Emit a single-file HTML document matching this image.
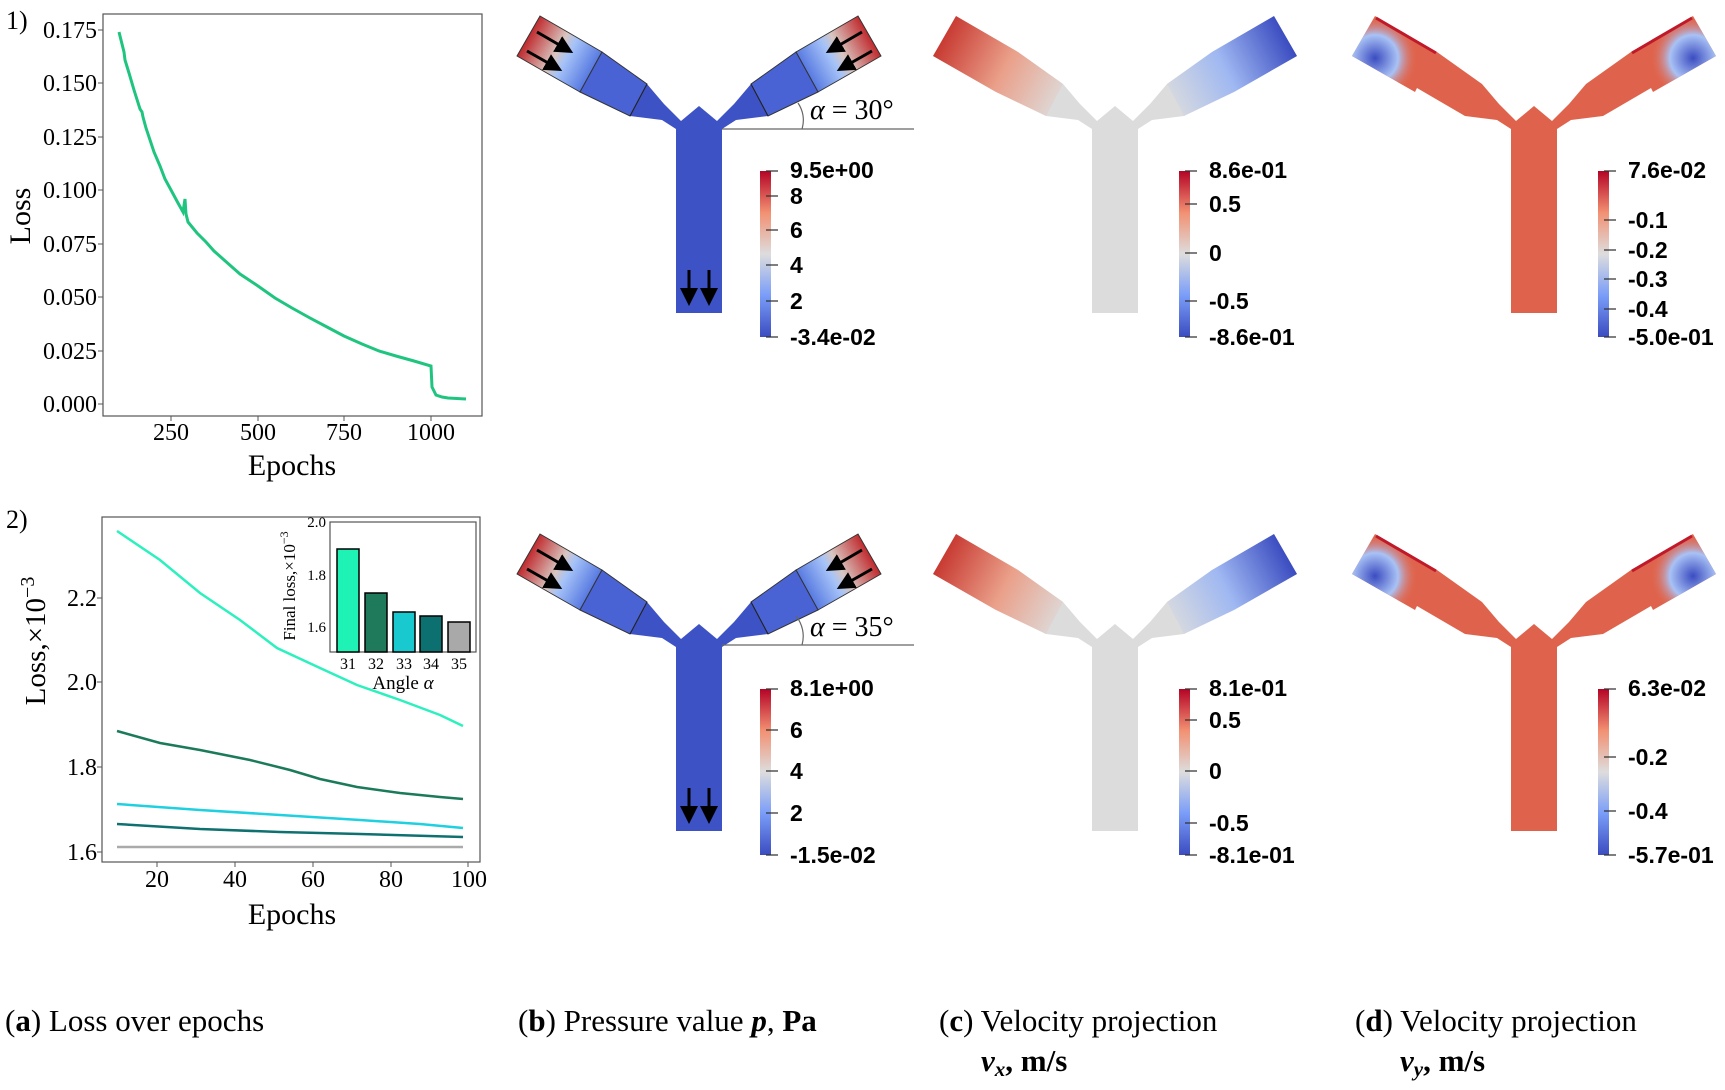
<!DOCTYPE html>
<html><head><meta charset="utf-8"><style>
html,body{margin:0;padding:0;background:#fff;}
svg{display:block;}
.s{font-family:"Liberation Serif",serif;}
.c{font-family:"Liberation Sans",sans-serif;font-weight:bold;font-size:23px;}
</style></head><body>
<svg width="1725" height="1090" viewBox="0 0 1725 1090" xmlns="http://www.w3.org/2000/svg">
<defs>
<path id="Y" d="M676,313 L676,129 L662,120 L630,116 L582,88 L580,92 L517,56 L540,16 L602,52 L647,84 L664,104 L681,121 L699,106 L717,121 L734,104 L751,84 L796,52 L858,16 L881,56 L818,92 L816,88 L768,116 L736,120 L722,129 L722,313 Z"/>
<linearGradient id="cb" x1="0" y1="1" x2="0" y2="0">
<stop offset="0" stop-color="#3b4cc0"/><stop offset="0.25" stop-color="#7a9df8"/><stop offset="0.5" stop-color="#dddddd"/><stop offset="0.75" stop-color="#f29072"/><stop offset="1" stop-color="#b40426"/></linearGradient>
<linearGradient id="lb" gradientUnits="userSpaceOnUse" x1="528" y1="36" x2="592" y2="72"><stop offset="0" stop-color="#c0282c"/><stop offset="0.45" stop-color="#d9c6c0"/><stop offset="0.6" stop-color="#a6c3f8"/><stop offset="1" stop-color="#5577e0"/></linearGradient>
<linearGradient id="rb" gradientUnits="userSpaceOnUse" x1="870" y1="36" x2="806" y2="72"><stop offset="0" stop-color="#c0282c"/><stop offset="0.45" stop-color="#d9c6c0"/><stop offset="0.6" stop-color="#a6c3f8"/><stop offset="1" stop-color="#5577e0"/></linearGradient>
<linearGradient id="vxl" gradientUnits="userSpaceOnUse" x1="528" y1="36" x2="650" y2="100"><stop offset="0" stop-color="#c83a32"/><stop offset="0.5" stop-color="#eaa08a"/><stop offset="1" stop-color="#dddddd"/></linearGradient>
<linearGradient id="vxr" gradientUnits="userSpaceOnUse" x1="870" y1="36" x2="748" y2="100"><stop offset="0" stop-color="#3b4cc0"/><stop offset="0.5" stop-color="#9fb8f2"/><stop offset="1" stop-color="#dddddd"/></linearGradient>
<radialGradient id="vyl" gradientUnits="userSpaceOnUse" cx="540" cy="58" r="42"><stop offset="0" stop-color="#3b4cc0"/><stop offset="0.55" stop-color="#a9c2f5"/><stop offset="1" stop-color="#e06a52" stop-opacity="0"/></radialGradient>
<radialGradient id="vyr" gradientUnits="userSpaceOnUse" cx="858" cy="58" r="42"><stop offset="0" stop-color="#3b4cc0"/><stop offset="0.55" stop-color="#a9c2f5"/><stop offset="1" stop-color="#e06a52" stop-opacity="0"/></radialGradient>
<marker id="ah" markerWidth="6" markerHeight="6" refX="4" refY="3" orient="auto"><path d="M0,0 L6,3 L0,6 Z" fill="#000"/></marker>
<g id="pb">
<use href="#Y" fill="#3d52c4"/>
<polygon points="517,56 540,16 602,52 580,92" fill="url(#lb)" stroke="#333" stroke-width="1"/>
<polygon points="881,56 858,16 796,52 818,92" fill="url(#rb)" stroke="#333" stroke-width="1"/>
<polygon points="602,52 647,84 630,116 580,92" fill="#4a63d4" stroke="#333" stroke-width="1"/>
<polygon points="796,52 751,84 768,116 818,92" fill="#4a63d4" stroke="#333" stroke-width="1"/>
<path d="M647,84 L630,116 M751,84 L768,116" stroke="#222" stroke-width="1"/>
<line x1="537" y1="32" x2="568" y2="50" stroke="#000" stroke-width="3" marker-end="url(#ah)"/>
<line x1="527" y1="51" x2="557" y2="68" stroke="#000" stroke-width="3" marker-end="url(#ah)"/>
<line x1="862" y1="32" x2="831" y2="50" stroke="#000" stroke-width="3" marker-end="url(#ah)"/>
<line x1="872" y1="51" x2="842" y2="68" stroke="#000" stroke-width="3" marker-end="url(#ah)"/>
<line x1="689" y1="270" x2="689" y2="300" stroke="#000" stroke-width="3" marker-end="url(#ah)"/>
<line x1="709" y1="270" x2="709" y2="300" stroke="#000" stroke-width="3" marker-end="url(#ah)"/>
</g>
<g id="pc">
<use href="#Y" fill="#dcdcdc"/>
<polygon points="517,56 540,16 602,52 647,84 630,116 580,92" fill="url(#vxl)"/>
<polygon points="881,56 858,16 796,52 751,84 768,116 818,92" fill="url(#vxr)"/>
</g>
<g id="pd">
<use href="#Y" fill="#df634c"/>
<polygon points="517,56 540,16 602,52 580,92" fill="url(#vyl)"/>
<polygon points="881,56 858,16 796,52 818,92" fill="url(#vyr)"/>
<line x1="541" y1="18" x2="601" y2="53" stroke="#c01a2a" stroke-width="3"/>
<line x1="857" y1="18" x2="797" y2="53" stroke="#c01a2a" stroke-width="3"/>
</g>
</defs>

<!-- Plot 1 -->
<text class="s" x="6" y="29" font-size="26">1)</text>
<rect x="103" y="14" width="379" height="402" fill="none" stroke="#555" stroke-width="1.2"/>
<g class="s" font-size="24" text-anchor="end">
<text x="97" y="38">0.175</text><text x="97" y="91">0.150</text><text x="97" y="145">0.125</text><text x="97" y="198">0.100</text><text x="97" y="252">0.075</text><text x="97" y="305">0.050</text><text x="97" y="359">0.025</text><text x="97" y="412">0.000</text>
</g>
<g stroke="#555"><line x1="98" y1="30" x2="103" y2="30"/><line x1="98" y1="83" x2="103" y2="83"/><line x1="98" y1="137" x2="103" y2="137"/><line x1="98" y1="190" x2="103" y2="190"/><line x1="98" y1="244" x2="103" y2="244"/><line x1="98" y1="297" x2="103" y2="297"/><line x1="98" y1="351" x2="103" y2="351"/><line x1="98" y1="404" x2="103" y2="404"/>
<line x1="171" y1="416" x2="171" y2="421"/><line x1="258" y1="416" x2="258" y2="421"/><line x1="344" y1="416" x2="344" y2="421"/><line x1="431" y1="416" x2="431" y2="421"/></g>
<g class="s" font-size="24" text-anchor="middle"><text x="171" y="440">250</text><text x="258" y="440">500</text><text x="344" y="440">750</text><text x="431" y="440">1000</text></g>
<text class="s" x="292" y="475" font-size="30" text-anchor="middle">Epochs</text>
<text class="s" font-size="30" text-anchor="middle" transform="translate(30,216) rotate(-90)">Loss</text>
<polyline fill="none" stroke="#1fc47f" stroke-width="3" points="119,32 124,52 125,60 129,73 134,90 140,109 142,112 143,117 146,128 154,152 160,166 165,179 171,190 178,203 183,212 185,199 186,214 188,222 197,233 206,242 214,251 223,259 232,267 240,274 249,280 258,286 275,298 292,308 310,318 327,327 344,336 362,344 379,351 396,356 414,361 431,366 432,387 436,395 442,397 448,398 466,399"/>

<!-- Plot 2 -->
<text class="s" x="6" y="528" font-size="26">2)</text>
<rect x="102" y="517" width="378" height="345" fill="none" stroke="#555" stroke-width="1.2"/>
<g class="s" font-size="24" text-anchor="end"><text x="97" y="606">2.2</text><text x="97" y="690">2.0</text><text x="97" y="775">1.8</text><text x="97" y="860">1.6</text></g>
<g stroke="#555"><line x1="97" y1="598" x2="102" y2="598"/><line x1="97" y1="682" x2="102" y2="682"/><line x1="97" y1="767" x2="102" y2="767"/><line x1="97" y1="852" x2="102" y2="852"/>
<line x1="157" y1="862" x2="157" y2="867"/><line x1="235" y1="862" x2="235" y2="867"/><line x1="313" y1="862" x2="313" y2="867"/><line x1="391" y1="862" x2="391" y2="867"/><line x1="468" y1="862" x2="468" y2="867"/></g>
<g class="s" font-size="24" text-anchor="middle"><text x="157" y="887">20</text><text x="235" y="887">40</text><text x="313" y="887">60</text><text x="391" y="887">80</text><text x="469" y="887">100</text></g>
<text class="s" x="292" y="924" font-size="30" text-anchor="middle">Epochs</text>
<text class="s" font-size="29" text-anchor="middle" transform="translate(45,641) rotate(-90)">Loss,×10<tspan dy="-11" font-size="20">−3</tspan></text>
<polyline fill="none" stroke="#2cf0bd" stroke-width="2.5" points="117,531 160,560 200,593 240,620 277,648 320,668 357,685 400,700 440,715 463,726"/>
<polyline fill="none" stroke="#1b7a5a" stroke-width="2.5" points="117,731 160,743 200,750 250,760 290,770 320,779 357,787 400,793 440,797 463,799"/>
<polyline fill="none" stroke="#1fd0e0" stroke-width="2.5" points="117,804 200,810 280,815 360,820 420,824 463,828"/>
<polyline fill="none" stroke="#0f7070" stroke-width="2.5" points="117,824 200,829 280,832 360,834 463,837"/>
<line x1="117" y1="847" x2="463" y2="847" stroke="#aaaaaa" stroke-width="2.5"/>
<!-- inset -->
<rect x="330" y="522" width="146" height="130" fill="#fff" stroke="#555" stroke-width="1.2"/>
<rect x="337" y="549" width="22" height="103" fill="#1ef2b4" stroke="#000" stroke-width="1.5"/>
<rect x="365" y="593" width="22" height="59" fill="#1e7a5a" stroke="#000" stroke-width="1.5"/>
<rect x="393" y="612" width="22" height="40" fill="#19c9d0" stroke="#000" stroke-width="1.5"/>
<rect x="420" y="616" width="22" height="36" fill="#0d7070" stroke="#000" stroke-width="1.5"/>
<rect x="448" y="622" width="22" height="30" fill="#a9a9a9" stroke="#000" stroke-width="1.5"/>
<g class="s" font-size="15" text-anchor="end"><text x="326" y="527">2.0</text><text x="326" y="580">1.8</text><text x="326" y="632">1.6</text></g>
<g class="s" font-size="16" text-anchor="middle"><text x="348" y="669">31</text><text x="376" y="669">32</text><text x="404" y="669">33</text><text x="431" y="669">34</text><text x="459" y="669">35</text></g>
<text class="s" x="403" y="689" font-size="19" text-anchor="middle">Angle <tspan font-style="italic">α</tspan></text>
<text class="s" font-size="17" text-anchor="middle" transform="translate(295,586) rotate(-90)">Final loss,×10<tspan dy="-7" font-size="12">−3</tspan></text>

<!-- Y panels row 1 -->
<use href="#pb"/>
<use href="#pc" transform="translate(416,0)"/>
<use href="#pd" transform="translate(835,0)"/>
<!-- row 2 -->
<use href="#pb" transform="translate(0,518)"/>
<use href="#pc" transform="translate(416,518)"/>
<use href="#pd" transform="translate(835,518)"/>

<!-- angle annotations -->
<line x1="722" y1="129" x2="914" y2="129" stroke="#666" stroke-width="1.2"/>
<path d="M798,103 A30,30 0 0 1 802,129" fill="none" stroke="#666" stroke-width="1.2"/>
<text class="s" x="810" y="119" font-size="28"><tspan font-style="italic">α</tspan> = 30°</text>
<line x1="722" y1="645" x2="914" y2="645" stroke="#666" stroke-width="1.2"/>
<path d="M796,616 A32,32 0 0 1 802,645" fill="none" stroke="#666" stroke-width="1.2"/>
<text class="s" x="810" y="636" font-size="28"><tspan font-style="italic">α</tspan> = 35°</text>

<!-- colorbars -->
<g>
<rect x="760" y="171" width="11" height="166" fill="url(#cb)"/>
<rect x="1179" y="171" width="11" height="166" fill="url(#cb)"/>
<rect x="1598" y="171" width="11" height="166" fill="url(#cb)"/>
<rect x="760" y="689" width="11" height="166" fill="url(#cb)"/>
<rect x="1179" y="689" width="11" height="166" fill="url(#cb)"/>
<rect x="1598" y="689" width="11" height="166" fill="url(#cb)"/>
</g>
<g stroke="#333" stroke-width="1.2">
<path d="M766,171h12M766,196h12M766,230h12M766,265h12M766,301h12M766,337h12"/>
<path d="M1185,171h12M1185,204h12M1185,253h12M1185,301h12M1185,337h12"/>
<path d="M1604,171h12M1604,220h12M1604,250h12M1604,279h12M1604,309h12M1604,337h12"/>
<path d="M766,689h12M766,730h12M766,771h12M766,813h12M766,855h12"/>
<path d="M1185,689h12M1185,720h12M1185,771h12M1185,823h12M1185,855h12"/>
<path d="M1604,689h12M1604,757h12M1604,811h12M1604,855h12"/>
</g>
<g class="c">
<text x="790" y="178">9.5e+00</text><text x="790" y="204">8</text><text x="790" y="238">6</text><text x="790" y="273">4</text><text x="790" y="309">2</text><text x="790" y="345">-3.4e-02</text>
<text x="1209" y="178">8.6e-01</text><text x="1209" y="212">0.5</text><text x="1209" y="261">0</text><text x="1209" y="309">-0.5</text><text x="1209" y="345">-8.6e-01</text>
<text x="1628" y="178">7.6e-02</text><text x="1628" y="228">-0.1</text><text x="1628" y="258">-0.2</text><text x="1628" y="287">-0.3</text><text x="1628" y="317">-0.4</text><text x="1628" y="345">-5.0e-01</text>
<text x="790" y="696">8.1e+00</text><text x="790" y="738">6</text><text x="790" y="779">4</text><text x="790" y="821">2</text><text x="790" y="863">-1.5e-02</text>
<text x="1209" y="696">8.1e-01</text><text x="1209" y="728">0.5</text><text x="1209" y="779">0</text><text x="1209" y="831">-0.5</text><text x="1209" y="863">-8.1e-01</text>
<text x="1628" y="696">6.3e-02</text><text x="1628" y="765">-0.2</text><text x="1628" y="819">-0.4</text><text x="1628" y="863">-5.7e-01</text>
</g>

<!-- captions -->
<g class="s" font-size="31">
<text x="5" y="1031">(<tspan font-weight="bold">a</tspan>) Loss over epochs</text>
<text x="518" y="1031">(<tspan font-weight="bold">b</tspan>) Pressure value <tspan font-style="italic" font-weight="bold">p</tspan>, <tspan font-weight="bold">Pa</tspan></text>
<text x="939" y="1031">(<tspan font-weight="bold">c</tspan>) Velocity projection</text>
<text x="981" y="1071"><tspan font-style="italic" font-weight="bold">v</tspan><tspan font-style="italic" font-weight="bold" font-size="21" dy="5">x</tspan><tspan dy="-5" font-weight="bold">, m/s</tspan></text>
<text x="1355" y="1031">(<tspan font-weight="bold">d</tspan>) Velocity projection</text>
<text x="1400" y="1071"><tspan font-style="italic" font-weight="bold">v</tspan><tspan font-style="italic" font-weight="bold" font-size="21" dy="5">y</tspan><tspan dy="-5" font-weight="bold">, m/s</tspan></text>
</g>
</svg>
</body></html>
